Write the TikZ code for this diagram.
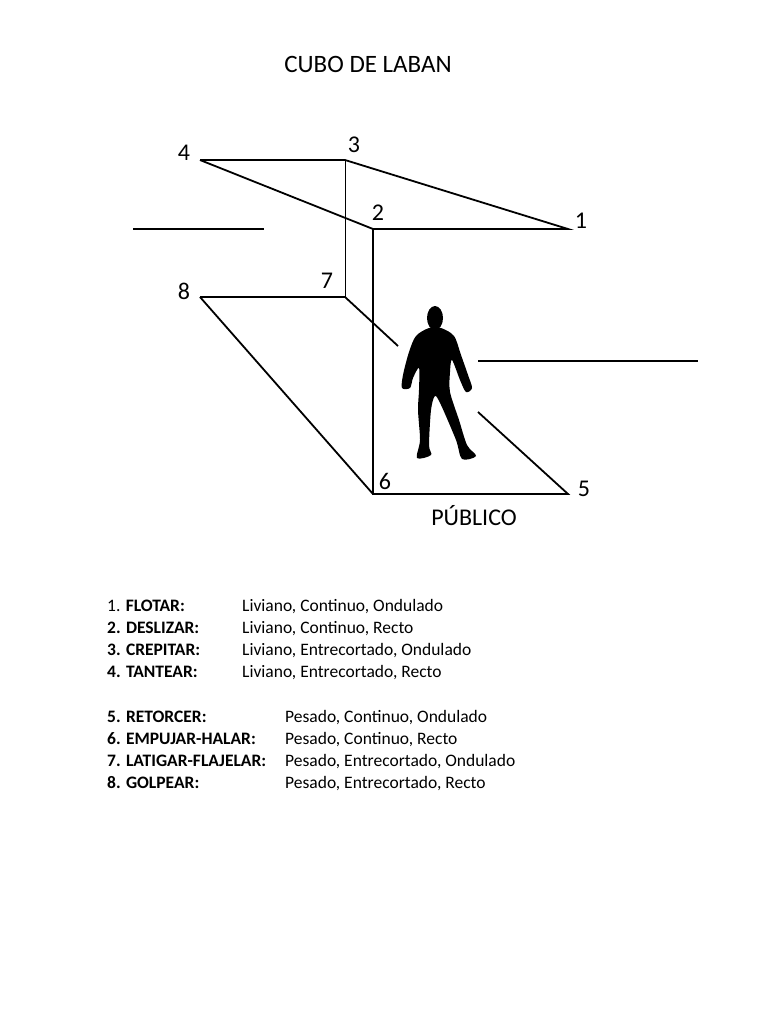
\documentclass[tikz,border=0pt]{standalone}
\usepackage{fontspec}
\setmainfont{Carlito}
\begin{document}
\begin{tikzpicture}[x=1pt,y=-1pt,
  ln/.style={line width=1.8pt},
  lbl/.style={font=\fontsize{24}{26}\selectfont},
  it/.style={anchor=base west,font=\fontsize{17.5}{19}\selectfont,inner sep=0pt}]
\useasboundingbox (0,0) rectangle (768,1024);
\node[font=\fontsize{25}{27}\selectfont] (title) at (368,64) {CUBO DE LABAN};
\coordinate (p4) at (200,160); \coordinate (p3) at (345,160);
\coordinate (p1) at (568,229); \coordinate (p2) at (373,229);
\coordinate (p8) at (200,297); \coordinate (p7) at (345,297);
\coordinate (p6) at (373,494); \coordinate (p5) at (568,494);
\coordinate (a) at (398,346); \coordinate (b) at (478,412);
\draw[ln] (p4)--(p3)--(p1)--(p2)--(p6)--(p5)--(b);
\draw[ln] (p4)--(p2);
\draw[line width=1pt] (p3)--(p7);
\draw[ln] (p8)--(p7);
\draw[ln] (p8)--(p6);
\draw[ln] (p7)--(a);
\draw[ln] (133,229)--(264,229);
\draw[ln] (478,361)--(698,361);
\node[lbl] (n4) at (184,153) {4};
\node[lbl] (n3) at (354,145) {3};
\node[lbl] (n2) at (378,213) {2};
\node[lbl] (n1) at (581,221) {1};
\node[lbl] (n8) at (184,291) {8};
\node[lbl] (n7) at (327,281) {7};
\node[lbl] (n6) at (385,481) {6};
\node[lbl] (n5) at (584,489) {5};
\node[lbl] (pub) at (474,516) {PÚBLICO};
% figure
\fill (435,318) ellipse (8 and 12);
\fill plot[smooth cycle,tension=0.5] coordinates {
 (429,328) (441,328) (454,336) (461,355) (468,375) (472,388) (466,392) (460,380)
 (452,360) (450,372) (450,392) (459,420) (467,445) (476,456) (462,459) (456,440)
 (441,405) (435,396) (431,410) (429,445) (431,455) (417,458) (420,440) (418,410)
 (419,390) (419,368) (413,378) (410,388) (402,388) (403,375) (409,352) (416,336)};
% list
\foreach \y/\k/\v in {611/{1. \textbf{FLOTAR:}}/{Liviano, Continuo, Ondulado},
 633/{\textbf{2. DESLIZAR:}}/{Liviano, Continuo, Recto},
 655/{\textbf{3. CREPITAR:}}/{Liviano, Entrecortado, Ondulado},
 677/{\textbf{4. TANTEAR:}}/{Liviano, Entrecortado, Recto}}
 {\node[it] at (107,\y) {\k}; \node[it] at (242,\y) {\v};}
\foreach \y/\k/\v in {722/{\textbf{5. RETORCER:}}/{Pesado, Continuo, Ondulado},
 744/{\textbf{6. EMPUJAR-HALAR:}}/{Pesado, Continuo, Recto},
 766/{\textbf{7. LATIGAR-FLAJELAR:}}/{Pesado, Entrecortado, Ondulado},
 788/{\textbf{8. GOLPEAR:}}/{Pesado, Entrecortado, Recto}}
 {\node[it] at (107,\y) {\k}; \node[it] at (285,\y) {\v};}
\end{tikzpicture}
\end{document}
